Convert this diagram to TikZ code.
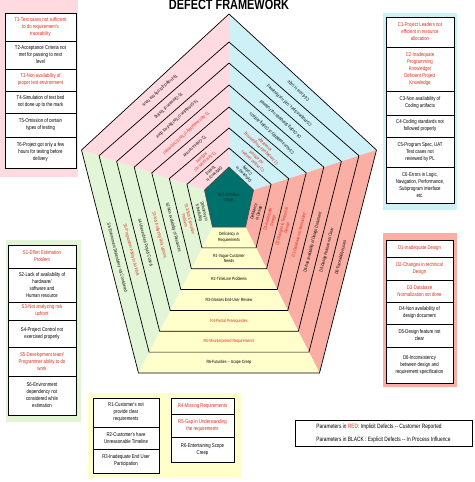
\documentclass[tikz,border=0pt]{standalone}
\usepackage{amsmath, amssymb}
\usepackage{xcolor}
\usepackage{fontspec}
\setmainfont{Liberation Sans}
\newfontfamily\narrowfont[FakeStretch=0.78]{Liberation Sans}
\usepackage{tikz}
\usetikzlibrary{positioning, calc}

\definecolor{pinkbg}{RGB}{255,218,224}
\definecolor{cyanbg}{RGB}{205,241,246}
\definecolor{greenbg}{RGB}{226,245,214}
\definecolor{yellowbg}{RGB}{255,255,204}
\definecolor{salmonbg}{RGB}{250,174,164}
\definecolor{tealc}{RGB}{0,112,108}
\definecolor{redtxt}{RGB}{222,45,25}

\begin{document}
\begin{tikzpicture}[x=1pt,y=-1pt]
\tikzstyle{cell}=[draw=black,fill=white,line width=0.6pt,inner sep=0pt,align=center,font=\narrowfont\fontsize{5.5}{7}\selectfont]
\tikzstyle{ringtext}=[inner sep=0pt,align=center,font=\narrowfont\fontsize{4.5}{5.2}\selectfont]
\useasboundingbox (0,0) rectangle (474,482);

\fill[pinkbg] (0,0) rectangle (78,177);
\fill[cyanbg] (383,13) rectangle (457,210);
\fill[greenbg] (6,240) rectangle (81,422);
\fill[salmonbg] (383,233) rectangle (457,387);
\fill[yellowbg] (88,393) rectangle (242,478);

\node[font=\narrowfont\bfseries\fontsize{14}{14}\selectfont,anchor=base,inner sep=0pt](title) at (229,9) {DEFECT FRAMEWORK};

\foreach \k/\ay in {0/167,1/148,2/128,3/107,4/85,5/63,6/42,7/14}{
  \pgfmathsetmacro\t{\k/7}
  \coordinate (p\k-0) at (229,\ay);
  \coordinate (p\k-1) at ($(253.5,190)!\t!(376.5,150)$);
  \coordinate (p\k-2) at ($(245.5,227)!\t!(319.5,373)$);
  \coordinate (p\k-3) at ($(212.5,227)!\t!(138.5,373)$);
  \coordinate (p\k-4) at ($(204.5,190)!\t!(81.5,150)$);
}
\fill[cyanbg] (p0-0) -- (p7-0) -- (p7-1) -- (p0-1) -- cycle;
\fill[salmonbg] (p0-1) -- (p7-1) -- (p7-2) -- (p0-2) -- cycle;
\fill[yellowbg] (p0-2) -- (p7-2) -- (p7-3) -- (p0-3) -- cycle;
\fill[greenbg] (p0-3) -- (p7-3) -- (p7-4) -- (p0-4) -- cycle;
\fill[pinkbg] (p0-4) -- (p7-4) -- (p7-0) -- (p0-0) -- cycle;
\foreach \k in {1,...,7}
  \draw[line width=0.7pt] (p\k-0) -- (p\k-1) -- (p\k-2) -- (p\k-3) -- (p\k-4) -- cycle;
\filldraw[fill=tealc,draw=black!70,line width=0.7pt] (p0-0) -- (p0-1) -- (p0-2) -- (p0-3) -- (p0-4) -- cycle;
\node[ringtext,text=black!85](origin) at (229,198) {5Ds of Defect\\Origin};

\foreach \k/\txt/\col in {1/{Deficiency in\\Requirements}/black,2/{R1-Vague Customer\\Needs}/black,
  3/{R2-TimeLine Problems}/black,4/{R3-Glosses End-User Review}/black,5/{R4-Partial Prerequisites}/redtxt,
  6/{R5-Misinterpreted Requirements}/redtxt,7/{R6-Futurities -- Scope Creep}/black}{
  \pgfmathtruncatemacro\j{\k-1}
  \node[ringtext,text=\col](req\k) at ($0.25*(p\j-2)+0.25*(p\j-3)+0.25*(p\k-2)+0.25*(p\k-3)$) {\txt};
}
\foreach \k/\txt/\col in {1/{Deficiency\\in Design}/black,2/{D1-Inadequate\\Design}/redtxt,
  3/{D2-Changes in Technical\\Design}/redtxt,4/{D3-Database not Normalized}/redtxt,
  5/{D4-Non availability of Design Document}/black,6/{D5-Design Feature not Clear}/black,
  7/{D6-Traceability Issues}/black}{
  \pgfmathtruncatemacro\j{\k-1}
  \node[ringtext,text=\col,rotate=75.7](des\k) at ($0.25*(p\j-1)+0.25*(p\j-2)+0.25*(p\k-1)+0.25*(p\k-2)$) {\txt};
}
\foreach \k/\txt/\col in {1/{Deficiency in\\Coding}/black,2/{C1-Project Leaders\\not efficient}/redtxt,
  3/{C2-Inadequate Programming\\Knowledge}/redtxt,4/{C3-Non availability of Coding Artifacts}/black,
  5/{C4-Coding Standards not Followed}/black,6/{C5-Program Spec, UAT not Reviewed}/black,
  7/{C6-Errors in Logic}/black}{
  \pgfmathtruncatemacro\j{\k-1}
  \node[ringtext,text=\col,rotate=137.3](cod\k) at ($0.25*(p\j-0)+0.25*(p\j-1)+0.25*(p\k-0)+0.25*(p\k-1)$) {\txt};
}
\foreach \k/\txt/\col in {1/{Deficiency in\\Testing}/black,2/{T1-Test cases not\\sufficient}/redtxt,
  3/{T2-Criteria not met}/black,4/{T3-Non availability of Test Environment}/redtxt,
  5/{T4-Simulation of Test Bed not done}/black,6/{T5-Omission of Testing}/black,
  7/{T6-Project got only few hours}/black}{
  \pgfmathtruncatemacro\j{\k-1}
  \node[ringtext,text=\col,rotate=-137.3](tst\k) at ($0.25*(p\j-4)+0.25*(p\j-0)+0.25*(p\k-4)+0.25*(p\k-0)$) {\txt};
}
\foreach \k/\txt/\col in {1/{Deficiency in\\Scheduling}/black,2/{S1-Effort Estimation\\Problem}/redtxt,
  3/{S2-Non availability of Resources}/black,4/{S3-Not Analyzing Risk Upfront}/redtxt,
  5/{S4-Unexercised Project Control}/black,6/{S5-Programmer Ability to do Work}/redtxt,
  7/{S6-Environment Dependency not Considered}/black}{
  \pgfmathtruncatemacro\j{\k-1}
  \node[ringtext,text=\col,rotate=-75.7](sch\k) at ($0.25*(p\j-3)+0.25*(p\j-4)+0.25*(p\k-3)+0.25*(p\k-4)$) {\txt};
}

\node[cell,minimum width=71pt,minimum height=28pt,text=redtxt](t1) at (40.5,27) {T1-Test cases not sufficient\\to do requirement's\\traceability};
\node[cell,minimum width=71pt,minimum height=28pt](t2) at (40.5,55) {T2-Acceptance Criteria not\\met for passing to next\\level};
\node[cell,minimum width=71pt,minimum height=22pt,text=redtxt](t3) at (40.5,80) {T3-Non availability of\\proper test environment};
\node[cell,minimum width=71pt,minimum height=22pt](t4) at (40.5,102) {T4-Simulation of test bed\\not done up to the mark};
\node[cell,minimum width=71pt,minimum height=24pt](t5) at (40.5,125) {T5-Omission of certain\\types of testing};
\node[cell,minimum width=71pt,minimum height=31pt](t6) at (40.5,152.5) {T6-Project got only a few\\hours for testing before\\delivery};

\node[cell,minimum width=68pt,minimum height=30pt,text=redtxt](c1) at (420,32) {C1-Project Leaders not\\efficient in resource\\allocation};
\node[cell,minimum width=68pt,minimum height=44pt,text=redtxt](c2) at (420,69) {C2-Inadequate\\Programming\\Knowledge/\\Deficient Project\\Knowledge};
\node[cell,minimum width=68pt,minimum height=24pt](c3) at (420,103) {C3-Non availability of\\Coding artifacts};
\node[cell,minimum width=68pt,minimum height=22pt](c4) at (420,126) {C4-Coding standards not\\followed properly};
\node[cell,minimum width=68pt,minimum height=30pt](c5) at (420,152) {C5-Program Spec, UAT\\Test cases not\\reviewed by PL};
\node[cell,minimum width=68pt,minimum height=36pt](c6) at (420,185) {C6-Errors in Logic,\\Navigation, Performance,\\Subprogram interface\\etc.};

\node[cell,minimum width=68pt,minimum height=23pt,text=redtxt](s1) at (42,256.5) {S1-Effort Estimation\\Problem};
\node[cell,minimum width=68pt,minimum height=34pt](s2) at (42,285) {S2-Lack of availability of\\hardware/\\software and\\Human resource};
\node[cell,minimum width=68pt,minimum height=18pt,text=redtxt](s3) at (42,311) {S3-Not analyzing risk\\upfront};
\node[cell,minimum width=68pt,minimum height=27pt](s4) at (42,333.5) {S4-Project Control not\\exercised properly};
\node[cell,minimum width=68pt,minimum height=29pt,text=redtxt](s5) at (42,361.5) {S5-Development team/\\Programmer ability to do\\work};
\node[cell,minimum width=68pt,minimum height=39pt](s6) at (42,395.5) {S6-Environment\\dependency not\\considered while\\estimation};

\node[cell,minimum width=67pt,minimum height=17pt,text=redtxt](d1) at (419.5,248.5) {D1-Inadequate Design};
\node[cell,minimum width=67pt,minimum height=23pt,text=redtxt](d2) at (419.5,268.5) {D2-Changes in technical\\Design};
\node[cell,minimum width=67pt,minimum height=22pt,text=redtxt](d3) at (419.5,291) {D3-Database\\Normalization not done};
\node[cell,minimum width=67pt,minimum height=22pt](d4) at (419.5,313) {D4-Non availability of\\design document};
\node[cell,minimum width=67pt,minimum height=23pt](d5) at (419.5,335.5) {D5-Design feature not\\clear};
\node[cell,minimum width=67pt,minimum height=36pt](d6) at (419.5,365) {D6-Inconsistency\\between design and\\requirement specification};

\node[cell,minimum width=66pt,minimum height=29pt](r1) at (126,412.5) {R1-Customer's not\\provide clear\\requirements};
\node[cell,minimum width=66pt,minimum height=22pt](r2) at (126,438) {R2-Customer's have\\Unreasonable Timeline};
\node[cell,minimum width=66pt,minimum height=24pt](r3) at (126,461) {R3-Inadequate End User\\Participation};
\node[cell,minimum width=63pt,minimum height=16pt,text=redtxt](r4) at (202.5,406) {R4-Missing Requirements};
\node[cell,minimum width=63pt,minimum height=23pt,text=redtxt](r5) at (202.5,425.5) {R5-Gap in Understanding\\the requirements};
\node[cell,minimum width=63pt,minimum height=25pt](r6) at (202.5,449.5) {R6-Entertaining Scope\\Creep};

\node[draw=black,line width=0.6pt,minimum width=177pt,minimum height=26pt,inner xsep=5pt,align=left,
  font=\narrowfont\fontsize{6.2}{13}\selectfont](legend) at (383.5,433)
  {Parameters in \textcolor{redtxt}{RED}: Implicit Defects -- Customer Reported\\Parameters in BLACK : Explicit Defects -- In Process Influence};
\end{tikzpicture}
\end{document}
